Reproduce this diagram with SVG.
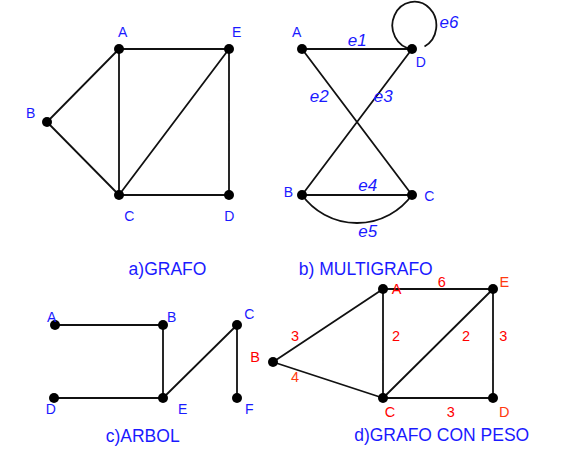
<svg xmlns="http://www.w3.org/2000/svg" width="567" height="464" viewBox="0 0 567 464">
<style>
.e{stroke:#111;stroke-width:1.8;fill:none}
.n{fill:#000}
text{font-family:"Liberation Sans",Arial,sans-serif;text-anchor:middle}
.lb{fill:#1a1aff;font-size:14px}
.el{fill:#1a1aff;font-size:17px;font-style:italic}
.t{fill:#1a1aff;font-size:17.5px}
.r{fill:#ff0000;font-size:14.5px}
.o{fill:#ff3a10;font-size:14.5px}
</style>
<rect width="567" height="464" fill="#fff"/>
<g id="connectors">
<path class="e" d="M119 49H229V195H119Z M119 49V195 M47 122L119 49 M47 122L119 195 M119 195L229 49"/>
<path class="e" d="M302 49H412 M302 49L412 195 M412 49L302 195 M302 195H412"/>
<path class="e" d="M302 195A68 68 0 0 0 412 195"/>
<path class="e" d="M411.7 49A22 23.7 0 1 1 424.5 46.5"/>
<path class="e" d="M55 325H163V398 M54 398H163 M163 398L237 325V398"/>
<path class="e" d="M383 289H493V398H383Z M383 289V398 M273 362L383 289 M273 362L383 398 M383 398L493 289"/>
</g>
<g id="graph-a">
<g id="a-A"><circle class="n" cx="119" cy="49" r="5"/><text class="lb" x="122.7" y="36.7">A</text></g>
<g id="a-E"><circle class="n" cx="229" cy="49" r="5"/><text class="lb" x="236.7" y="36.7">E</text></g>
<g id="a-B"><circle class="n" cx="47" cy="122" r="5"/><text class="lb" x="30.7" y="118.3">B</text></g>
<g id="a-C"><circle class="n" cx="119" cy="195" r="5"/><text class="lb" x="129.3" y="221">C</text></g>
<g id="a-D"><circle class="n" cx="229" cy="195" r="5"/><text class="lb" x="229.3" y="221">D</text></g>
<text class="t" x="167.5" y="275">a)GRAFO</text>
</g>
<g id="graph-b">
<g id="b-A"><circle class="n" cx="302" cy="49" r="5"/><text class="lb" x="296.7" y="37.3">A</text></g>
<g id="b-D"><circle class="n" cx="412" cy="49" r="5"/><text class="lb" x="420.7" y="66.7">D</text></g>
<g id="b-B"><circle class="n" cx="302" cy="195" r="5"/><text class="lb" x="288.3" y="196.7">B</text></g>
<g id="b-C"><circle class="n" cx="412" cy="195" r="5"/><text class="lb" x="429.3" y="201">C</text></g>
<text class="el" x="357.3" y="45.5">e1</text>
<text class="el" x="319.3" y="102">e2</text>
<text class="el" x="383.3" y="102">e3</text>
<text class="el" x="367.7" y="191">e4</text>
<text class="el" x="367.7" y="236.5">e5</text>
<text class="el" x="449" y="28">e6</text>
<text class="t" x="365.8" y="275">b) MULTIGRAFO</text>
</g>
<g id="graph-c">
<g id="c-A"><circle class="n" cx="55" cy="325" r="5"/><text class="lb" x="51.7" y="321.7">A</text></g>
<g id="c-B"><circle class="n" cx="163" cy="325" r="5"/><text class="lb" x="171.7" y="321.7">B</text></g>
<g id="c-C"><circle class="n" cx="237" cy="325" r="5"/><text class="lb" x="249.3" y="319">C</text></g>
<g id="c-D"><circle class="n" cx="54" cy="398" r="5"/><text class="lb" x="50.7" y="414.3">D</text></g>
<g id="c-E"><circle class="n" cx="163" cy="398" r="5"/><text class="lb" x="182.7" y="414.3">E</text></g>
<g id="c-F"><circle class="n" cx="237" cy="398" r="5"/><text class="lb" x="249.3" y="414.3">F</text></g>
<text class="t" x="142.7" y="441.7">c)ARBOL</text>
</g>
<g id="graph-d">
<g id="d-A"><circle class="n" cx="383" cy="289" r="5"/><text class="r" x="396.7" y="294">A</text></g>
<g id="d-E"><circle class="n" cx="493" cy="289" r="5"/><text class="o" x="504.3" y="286.7">E</text></g>
<g id="d-B"><circle class="n" cx="273" cy="362" r="5"/><text class="r" x="255" y="362.3">B</text></g>
<g id="d-C"><circle class="n" cx="383" cy="398" r="5"/><text class="r" x="390" y="416.7">C</text></g>
<g id="d-D"><circle class="n" cx="493" cy="398" r="5"/><text class="o" x="504.3" y="416.7">D</text></g>
<text class="r" x="441.7" y="286.7">6</text>
<text class="r" x="295" y="341">3</text>
<text class="r" x="396" y="341">2</text>
<text class="r" x="466" y="341">2</text>
<text class="r" x="503.3" y="341">3</text>
<text class="o" x="295" y="382.3">4</text>
<text class="r" x="450.7" y="416.7">3</text>
<text class="t" x="441.7" y="440.5">d)GRAFO CON PESO</text>
</g>
</svg>
